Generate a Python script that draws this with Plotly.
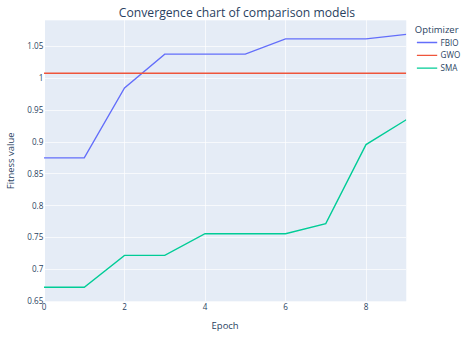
import plotly.graph_objects as go

epochs = list(range(10))
fbio = [0.875, 0.875, 0.985, 1.038, 1.038, 1.038, 1.062, 1.062, 1.062, 1.069]
gwo = [1.008] * 10
sma = [0.672, 0.672, 0.722, 0.722, 0.756, 0.756, 0.756, 0.772, 0.896, 0.935]

names = ["FBIO", "GWO", "SMA"]
series = [fbio, gwo, sma]
colors = ["#636efa", "#EF553B", "#00cc96"]

fig = go.Figure()
for n, s, c in zip(names, series, colors):
    fig.add_trace(go.Scatter(x=epochs, y=s, mode="lines", name=n, line=dict(color=c, width=2)))

# Figure is laid out at 700x500 and scaled down to 474x338 in the page
fig.update_layout(
    template="plotly",
    width=700, height=500,
    margin=dict(l=65, r=100, t=30, b=55),
    title=dict(text="Convergence chart of comparison models", x=0.5, xanchor="center",
               xref="paper", y=1 - 19 / 500, yref="container", yanchor="middle",
               font=dict(size=18)),
    legend=dict(title=dict(text="Optimizer")),
    xaxis=dict(title=dict(text="Epoch"), dtick=2),
    yaxis=dict(title=dict(text="Fitness value"), dtick=0.05),
)
fig.update_layout(title_xref="container")

post = """
var gd = document.getElementById('{plot_id}');
gd.style.transformOrigin = '0 0';
gd.style.transform = 'scale(0.6771)';
document.body.style.margin = '0';
document.body.style.overflow = 'hidden';
"""
fig.write_html("out.html", post_script=post)
